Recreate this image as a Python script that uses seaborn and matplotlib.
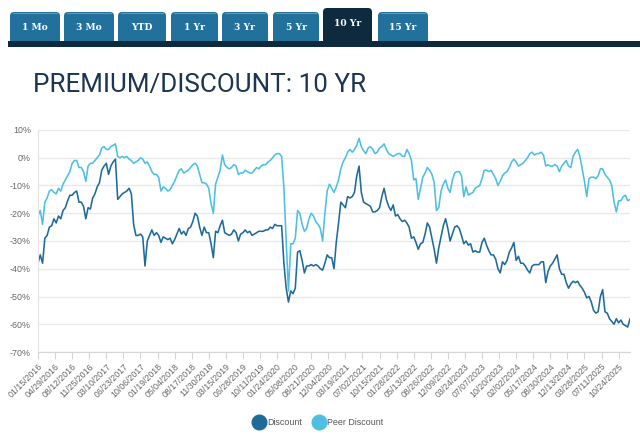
import numpy as np
import pandas as pd
import matplotlib
matplotlib.use("Agg")
import matplotlib.pyplot as plt
from matplotlib.patches import FancyBboxPatch, Rectangle
from matplotlib.lines import Line2D
import seaborn as sns

# ---------------- data (biweekly) ----------------
start_date = "2016-01-15"
step = "14D"

discount = [
    -38, -35, -38, -29, -28, -25, -24.5, -22, -23.5, -21,
    -22, -19, -18, -15.5, -13.5, -13.5, -12.5, -12, -16, -16,
    -17.5, -22, -18, -18.5, -14.5, -13, -10.5, -9, -4.5, -3,
    -2, -6, -3, -1.5, -0.5, -15, -14, -13, -12.5, -12,
    -11, -13, -24, -28, -28, -27.5, -28.5, -39, -30, -28,
    -26, -28, -27,
    -28, -30.5, -28.5, -29, -29.5, -29, -31, -29.5, -27.5, -25.5,
    -27.5, -26.5, -28, -25.5, -25, -23, -20, -21, -25, -28,
    -25, -27, -27, -31, -36, -26.5, -27, -24.5, -22.5, -27,
    -27.5, -28, -27.5, -26, -27, -30, -27.5, -27, -26, -27,
    -26.5, -28, -27.5, -27, -26.5, -26.5, -26.5, -26, -26, -25,
    -25.5, -24, -24.5,
    -24.5, -24.5, -38, -47, -52, -48, -49, -47, -34, -33.5,
    -37, -41.5, -39, -39, -38.5, -39, -38.5, -39, -40, -40.5,
    -38, -35, -36, -36, -40, -30.5, -23.5, -16, -17, -18,
    -14, -14.5, -14, -12.5, -6.5, -3, -12.5, -16, -16.5, -17,
    -17.5, -19.5, -19.5, -19, -18, -14, -11, -15, -17.5, -19,
    -17, -21, -20.5,
    -22, -23, -22.5, -23.5, -25, -29, -28.5, -30.5, -33, -31,
    -30.5, -27.5, -23.5, -25, -29, -33, -38, -32.5, -28.5, -24.5,
    -22, -25.5, -30, -27.5, -25, -24.5, -25.5, -28, -31, -30,
    -31.5, -31, -34, -33.5, -34, -34, -30.5, -29, -31.5, -33.5,
    -35, -35, -36.5, -40, -41.5, -37.5, -38.5, -37, -34, -32.5,
    -30.5, -37, -35.5,
    -38, -38, -39, -40.5, -41.5, -39, -38.5, -38.5, -38.5, -37.5,
    -37.5, -45, -41, -39, -38, -36.5, -35, -40, -42, -42,
    -45, -47, -45.5, -44.5, -45, -44.5, -46, -47, -48.5, -50.5,
    -50, -52, -55, -56, -55.5, -50, -47.5, -55.5, -56, -58,
    -59, -60, -58, -59.5, -58.5, -60, -60.5, -61, -58,
]

peer_discount = [
    -21, -19, -24, -16, -14.5, -12, -11.5, -12.5, -13, -11,
    -12, -9.5, -8, -6.5, -5, -2, -1, -1, -3.5, -3.5,
    -5, -8.5, -3, -2, -2, -1, 0, 1, 3.5, 4,
    3, 3, 4, 4.5, 5, 0.5, 0, 0.5, 0, 0.5,
    -0.5, -1, -2, -1.5, -1, 0, -0.5, -2, -1.5, -3,
    -5, -6, -6,
    -7, -12, -10.5, -11, -12, -11.5, -10, -8.5, -6.5, -4.5,
    -4, -5.5, -5, -4.5, -3.5, -2.5, -2, -3, -6, -9,
    -9, -9.5, -11, -16.5, -20, -9.5, -7, -4.5, 1, -2.5,
    -3.5, -4, -3.5, -2.5, -3, -6, -5.5, -5.5, -4.5, -5,
    -5.5, -5.5, -4.5, -3.5, -4, -3, -2.5, -2.5, -1.5, -1,
    0, 1, 1.5,
    1.5, 0.5, -11, -30, -48, -31, -31, -29, -19, -20,
    -24, -26.5, -25.5, -22, -20, -21, -23, -24, -25.5, -30,
    -20, -12, -9.5, -11, -12.5, -10.5, -8, -4, -1.5, 0,
    2, 3, 2, 3, 4.5, 7, 4, 2.5, 1.5, 3.5,
    4, 3, 1.5, 2, 3.5, 4, 5, 3, 1.5, 1,
    0.5, 1, 1.5,
    1.5, 0.5, 0.5, 3, 1.5, -1, -8, -7.5, -15, -11,
    -7, -5.5, -3.5, -4.5, -6, -9, -19, -18, -12, -9.5,
    -8, -11, -12.5, -8, -5.5, -5, -5, -6.5, -14, -10.5,
    -13.5, -13, -12.5, -11, -10.5, -10, -7.5, -4.5, -4.5, -5,
    -4.5, -6, -7.5, -10, -8.5, -6.5, -5.5, -5, -3.5, -1.5,
    -0.5, -1.5, -3,
    -2.5, -2, -1, 0, 1.5, 2, 1, 1.5, 1.5, 2,
    1, -3, -2.5, -3, -3, -2.5, -3, -5, -3, -2,
    -1, -3, -3.5, 0.5, 2, 3, 0.5, -4, -8.5, -14,
    -7.5, -7, -7, -7.5, -6.5, -4, -4, -6, -7, -8,
    -10, -16, -19.5, -15.5, -15.5, -14, -13.5, -15.5, -15,
]

series_names = ["Discount", "Peer Discount"]
tab_labels = ["1 Mo", "3 Mo", "YTD", "1 Yr", "3 Yr", "5 Yr", "10 Yr", "15 Yr"]
active_tab = "10 Yr"
title_text = "PREMIUM/DISCOUNT: 10 YR"
y_ticks = [10, 0, -10, -20, -30, -40, -50, -60, -70]
x_tick_start = "2016-01-15"
x_tick_step = "105D"
x_tick_count = 35

# ---------------- styling ----------------
col_disc = "#1e6b9a"
col_peer = "#4dbfe3"
tab_blue = "#22709c"
tab_dark = "#0e2a3f"
title_col = "#1c3552"
text_gray = "#666666"

dates = pd.date_range(start_date, periods=len(discount), freq=step)
df = pd.DataFrame({
    "date": list(dates) * 2,
    "value": discount + peer_discount,
    "series": [series_names[0]] * len(discount) + [series_names[1]] * len(peer_discount),
})

sns.set_style("white")
plt.rcParams["font.family"] = ["Liberation Sans", "DejaVu Sans"]

W, H = 640, 437
fig = plt.figure(figsize=(W / 100, H / 100), dpi=100)

# overlay axes in pixel coordinates for tabs / title / legend
bg = fig.add_axes([0, 0, 1, 1])
bg.set_xlim(0, W)
bg.set_ylim(H, 0)
bg.axis("off")
bg.patch.set_alpha(0)

tab_spans = [(10, 60), (64, 114), (118, 166), (171, 218), (222, 268), (273, 319), (323, 372), (378, 428)]
for lab, (x0, x1) in zip(tab_labels, tab_spans):
    active = lab == active_tab
    top = 8 if active else 12
    color = tab_dark if active else tab_blue
    p = FancyBboxPatch((x0, top), x1 - x0, 44 - top,
                       boxstyle="round,pad=0,rounding_size=4",
                       fc=color, ec="none", zorder=2)
    bg.add_patch(p)
    if not active:
        bg.add_line(Line2D([x0 + 3, x1 - 3], [top + 0.8, top + 0.8], color="#5b9bc0", lw=0.8, zorder=3))
    bg.text((x0 + x1) / 2, 27 if not active else 24, lab, color="white",
            family=["DejaVu Serif"], weight="bold", fontsize=6.6,
            ha="center", va="center", zorder=4)
bg.add_patch(Rectangle((8, 41), W - 8, 6, fc=tab_dark, ec="none", zorder=5))

bg.text(33, 85, title_text, family=["Roboto", "DejaVu Sans"], weight="normal",
        fontsize=18.7, color=title_col, ha="left", va="center")

# legend
for (cx, tx, name, c) in [(259, 267, series_names[0], col_disc), (319, 327, series_names[1], col_peer)]:
    bg.add_line(Line2D([cx], [422], marker="o", markersize=10.5, color=c, mec=c, lw=0))
    bg.text(tx, 422.5, name, fontsize=6.4, color="#555555", ha="left", va="center")

# ---------------- main chart ----------------
ax = fig.add_axes([38 / W, 1 - 352 / H, 592 / W, 222 / H])
sns.lineplot(data=df, x="date", y="value", hue="series",
             palette={series_names[0]: col_disc, series_names[1]: col_peer},
             hue_order=series_names[::-1], linewidth=1.15, ax=ax, legend=False)
ax.set_ylim(-70, 10)
ax.set_xlim(dates[0], dates[-1])
ax.set_yticks(y_ticks)
ax.set_yticklabels([f"{v}%" for v in y_ticks])
ax.yaxis.grid(True, color="#e9e9e9", linewidth=1)
ax.xaxis.grid(False)
ax.set_axisbelow(True)

tick_dates = pd.date_range(x_tick_start, periods=x_tick_count, freq=x_tick_step)
ax.set_xticks(tick_dates)
ax.set_xticklabels([d.strftime("%m/%d/%Y") for d in tick_dates],
                   rotation=45, ha="right", rotation_mode="anchor")
ax.tick_params(axis="x", length=5, width=0.8, color="#d5d5d5", labelsize=6.3,
               labelcolor=text_gray, pad=2, bottom=True)
ax.tick_params(axis="y", length=0, labelsize=6.4, labelcolor=text_gray, pad=5)
for s in ["top", "right"]:
    ax.spines[s].set_visible(False)
ax.spines["left"].set_color("#e3e3e3")
ax.spines["bottom"].set_color("#d5d5d5")
ax.set_xlabel("")
ax.set_ylabel("")

fig.savefig("out.png", dpi=100)
